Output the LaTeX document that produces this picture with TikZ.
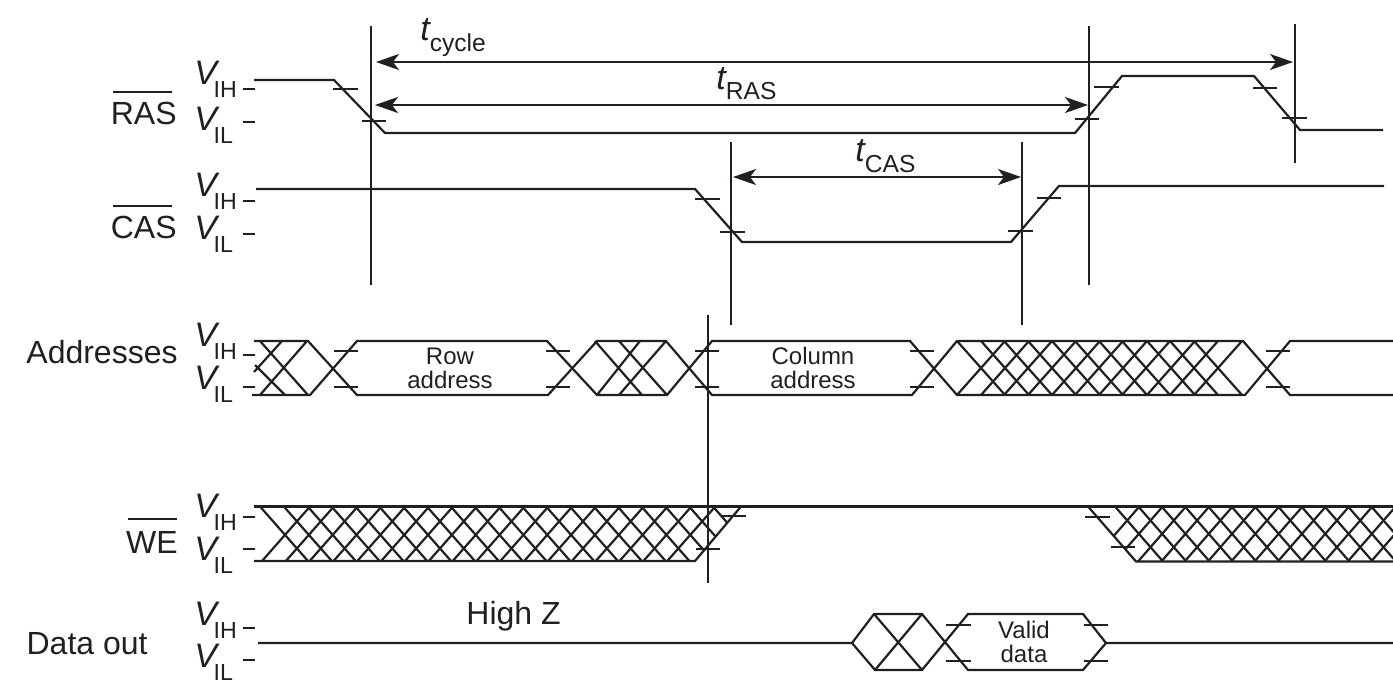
\documentclass[tikz,border=0pt]{standalone}
\usepackage{fontspec}
\setmainfont{Liberation Sans}
\usetikzlibrary{arrows.meta}
\definecolor{ink}{HTML}{231F20}
\newcommand{\vlev}[1]{{\fontsize{17}{19}\selectfont\itshape V}\kern-1.7pt\raisebox{-6.3pt}{\fontsize{11.6}{13}\selectfont #1}}
\newcommand{\tlev}[1]{{\fontsize{17}{20}\selectfont\itshape t}\raisebox{-5.5pt}{\fontsize{12.3}{14}\selectfont #1}}
\tikzset{
	sig/.style={line width=1.1pt, line join=miter, color=ink},
	thr/.style={line width=1.1pt, color=ink},
	dim/.style={line width=1.1pt, color=ink, {Stealth[length=11.5pt,width=8pt,inset=3pt]}-{Stealth[length=11.5pt,width=8pt,inset=3pt]}},
	big/.style={inner sep=0pt, anchor=base east, text=ink, font=\fontsize{16}{18}\selectfont},
	lev/.style={inner sep=0pt, anchor=base west, text=ink},
	inb/.style={inner sep=0pt, anchor=base, align=center, text=ink, font=\fontsize{12}{11.7}\selectfont},
}
\begin{document}
\begin{tikzpicture}[x=0.5pt,y=-0.5pt]
	\useasboundingbox (0,0) rectangle (1393,685);
	% signal names
	\node [big] (ras) at (177,124) {RAS};
	\node [big] (cas) at (177,238) {CAS};
	\node [big] (addr) at (178,363) {Addresses};
	\node [big] (we) at (178,553) {WE};
	\node [big] (dout) at (148,654) {Data out};
	\draw [thr] (113,92) -- (172,92) (113,206) -- (172,206) (128,519) -- (177,519);
	% levels
	\node [lev] (rash) at (194,84.5) {\vlev{IH}};
	\node [lev] (rasl) at (194,130.5) {\vlev{IL}};
	\node [lev] (cash) at (194,196.5) {\vlev{IH}};
	\node [lev] (casl) at (194,239.5) {\vlev{IL}};
	\node [lev] (addh) at (194,346.5) {\vlev{IH}};
	\node [lev] (addl) at (194,389.5) {\vlev{IL}};
	\node [lev] (weh) at (194,517.5) {\vlev{IH}};
	\node [lev] (wel) at (194,560.5) {\vlev{IL}};
	\node [lev] (douth) at (194,625.5) {\vlev{IH}};
	\node [lev] (doutl) at (194,667.5) {\vlev{IL}};
	\foreach \y in {89,122,201,234,355,387,517,549,628,660}
		\draw [thr] (243,\y) -- (255,\y);
	% RAS and CAS
	\draw [sig] (254,80) -- (334,80) -- (385,133) -- (1075,133) -- (1122,76) -- (1254,76) -- (1300,130) -- (1383,130);
	\draw [sig] (256,189) -- (695,189) -- (742,242) -- (1011,242) -- (1059,186) -- (1384,186);
	\draw [thr] (333,89) -- (358,89) (362,121) -- (386,121) (1075,119) -- (1099,119) (1094,87) -- (1119,87);
	\draw [thr] (1253,88) -- (1277,88) (1282,118) -- (1307,118);
	\draw [thr] (695,199) -- (720,199) (720,232) -- (745,232) (1008,231) -- (1033,231) (1037,198) -- (1061,198);
	% markers
	\draw [thr] (371,26) -- (371,285);
	\draw [thr] (1089,26) -- (1089,285);
	\draw [thr] (1295,24) -- (1295,163);
	\draw [thr] (731,142) -- (731,325);
	\draw [thr] (1022,142) -- (1022,325);
	\draw [thr] (708,315) -- (708,583);
	% times
	\coordinate (cyc0) at (376,62);
	\coordinate (cyc1) at (1293,62);
	\coordinate (rasa) at (375,105);
	\coordinate (rasb) at (1088,105);
	\coordinate (casa) at (733,177);
	\coordinate (casb) at (1021,177);
	\draw [dim] (cyc0) -- (cyc1);
	\draw [dim] (rasa) -- (rasb);
	\draw [dim] (casa) -- (casb);
	\node [lev] (tcyc) at (420,40) {\tlev{cycle}};
	\node [lev] (tras) at (716,89) {\tlev{RAS}};
	\node [lev] (tcas) at (855,161) {\tlev{CAS}};
	% Addresses
	\draw [sig] (254,341) -- (308,341) -- (357,395) -- (548,395) -- (597,341) -- (666,341) -- (712,395) -- (912,395) -- (957,341) -- (1243,341) -- (1290,395) -- (1393,395);
	\draw [sig] (252,395) -- (310,395) -- (357,341) -- (547,341) -- (597,395) -- (667,395) -- (712,341) -- (910,341) -- (957,395) -- (1245,395) -- (1290,341) -- (1393,341);
	\draw [sig] (260,341) -- (308,395) (255,365) -- (285,395) (307,341) -- (260,395) (282,341) -- (254,372);
	\draw [sig] (595,341) -- (642,395) (619,341) -- (667,395) (597,395) -- (640,341) (619,395) -- (666,341);
	\foreach \x in {957,981,1004,1028,1052,1075,1099,1122,1147,1170,1194}
		\draw [sig] (\x,341) -- ++(48,54) (\x,395) -- ++(48,-54);
	\foreach \x in {334,546,695,910,1266}
		\draw [thr] (\x,351) -- ++(24,0) (\x,387) -- ++(24,0);
	\node [inb] (row) at (450,388) {Row\\address};
	\node [inb] (col) at (813,388) {Column\\address};
	% WE
	\draw [sig] (254,506.5) -- (1393,506.5);
	\draw [sig] (254,561) -- (695,561) -- (741,506.5);
	\draw [sig] (1088,506.5) -- (1136,561.5) -- (1393,561.5);
	\begin{scope}
		\clip (254,506.5) -- (741,506.5) -- (695,561) -- (254,561) -- cycle;
		\foreach \i in {0,...,19}
			\draw [sig] ({260+23.84*\i},506.5) -- ++(48,54.5);
		\foreach \i in {0,...,17}
			\draw [sig] ({262+23.84*\i},561) -- ++(48,-54.5);
	\end{scope}
	\begin{scope}
		\clip (1088,506.5) -- (1393,506.5) -- (1393,561.5) -- (1136,561.5) -- cycle;
		\foreach \i in {0,...,12}
			\draw [sig] ({1115+23.3*\i},506.5) -- ++(48,55);
		\foreach \i in {-2,...,11}
			\draw [sig] ({1138+23.3*\i},561.5) -- ++(48,-55);
	\end{scope}
	\draw [thr] (696,549) -- (720,549) (722,516) -- (746,516) (1085,517) -- (1110,517) (1111,547) -- (1135,547);
	% Data out
	\draw [sig] (258,643) -- (852,643) -- (874,614) -- (922,614) -- (968,670) -- (1083,670) -- (1106,643) -- (1393,643);
	\draw [sig] (852,643) -- (875,670) -- (922,670) -- (968,614) -- (1083,614) -- (1106,643);
	\draw [sig] (874,614) -- (922,670) (875,670) -- (922,614);
	\draw [thr] (946,625) -- (971,625) (946,661) -- (971,661) (1084,625) -- (1108,625) (1084,661) -- (1108,661);
	\node [inb] (valid) at (1024,662) {Valid\\data};
	\node [lev, font=\fontsize{16}{18}\selectfont] (hiz) at (466,624) {High Z};
\end{tikzpicture}
\end{document}
